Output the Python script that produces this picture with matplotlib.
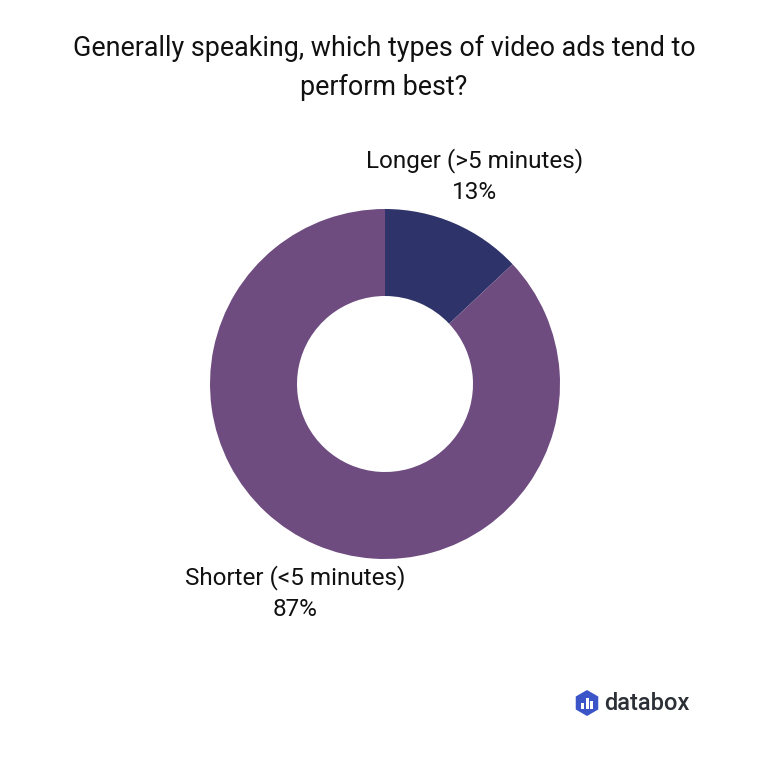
import matplotlib.pyplot as plt
from matplotlib.patches import RegularPolygon, Rectangle

plt.rcParams['font.family'] = ['Roboto', 'DejaVu Sans']

title = "Generally speaking, which types of video ads tend to\nperform best?"
labels = ["Longer (>5 minutes)", "Shorter (<5 minutes)"]
values = [13, 87]
colors = ["#2e3469", "#6e4c80"]

fig = plt.figure(figsize=(7.68, 7.68), dpi=100)
ax = fig.add_axes([0, 0, 1, 1])
ax.set_xlim(0, 768)
ax.set_ylim(0, 768)
ax.set_aspect('equal')
ax.axis('off')

ax.pie(values, colors=colors, startangle=90, counterclock=False,
       center=(385, 384), radius=175,
       wedgeprops=dict(width=87, edgecolor='none'))
ax.set_xlim(0, 768)
ax.set_ylim(0, 768)

ax.text(384, 768 - 68, title, ha='center', va='center', fontsize=19.4,
        color='#111111', linespacing=1.6)

ax.text(475, 768 - 176, f"{labels[0]}\n{values[0]}%", ha='center', va='center',
        fontsize=17.5, color='#111111', linespacing=1.4)
ax.text(295, 768 - 593, f"{labels[1]}\n{values[1]}%", ha='center', va='center',
        fontsize=17.5, color='#111111', linespacing=1.4)

# databox logo
hexagon = RegularPolygon((587, 768 - 703), numVertices=6, radius=13,
                         orientation=0, facecolor='#3b55c8', edgecolor='none')
ax.add_patch(hexagon)
for bx, bh in [(581, 6), (585.5, 11), (590, 8)]:
    ax.add_patch(Rectangle((bx, 768 - 709), 3, bh, facecolor='white'))
ax.text(604, 768 - 703, "databox", ha='left', va='center', fontsize=17,
        fontweight='medium', color='#2b2f36')

fig.savefig('out.png', dpi=100)
